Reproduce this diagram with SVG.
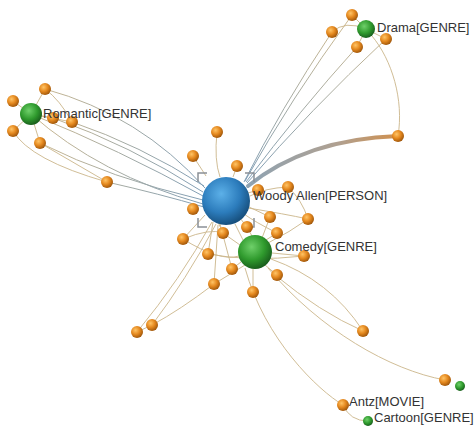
<svg xmlns="http://www.w3.org/2000/svg" width="474" height="429" viewBox="0 0 474 429">
<defs>
<radialGradient id="gO" cx="0.38" cy="0.35" r="0.7"><stop offset="0" stop-color="#ffc466"/><stop offset="0.5" stop-color="#e5891f"/><stop offset="1" stop-color="#9a5208"/></radialGradient>
<radialGradient id="gG" cx="0.4" cy="0.35" r="0.7"><stop offset="0" stop-color="#6fd06a"/><stop offset="0.55" stop-color="#2f9a2d"/><stop offset="1" stop-color="#16561a"/></radialGradient>
<radialGradient id="gB" cx="0.4" cy="0.35" r="0.72"><stop offset="0" stop-color="#5cb0e8"/><stop offset="0.55" stop-color="#2c7cbc"/><stop offset="1" stop-color="#12456f"/></radialGradient>
<linearGradient id="gRom" gradientUnits="userSpaceOnUse" x1="30" y1="0" x2="205" y2="0"><stop offset="0" stop-color="#cdb88e"/><stop offset="1" stop-color="#7f9db5"/></linearGradient>
<linearGradient id="gDra" gradientUnits="userSpaceOnUse" x1="0" y1="180" x2="0" y2="20"><stop offset="0" stop-color="#7f9db5"/><stop offset="1" stop-color="#cdb88e"/></linearGradient>
<linearGradient id="gThick" gradientUnits="userSpaceOnUse" x1="248" y1="0" x2="398" y2="0"><stop offset="0" stop-color="#8ea3b3"/><stop offset="0.6" stop-color="#b0a090"/><stop offset="1" stop-color="#d0904e"/></linearGradient>
</defs>
<style>
.e{fill:none;stroke:#cbb58a;stroke-width:0.9}
.r{fill:none;stroke:url(#gRom);stroke-width:1}
.d{fill:none;stroke:url(#gDra);stroke-width:1}
.o{fill:url(#gO)}
.g{fill:url(#gG)}
.b{fill:url(#gB)}
.t{font-family:"Liberation Sans",Arial,sans-serif;font-size:13px;fill:#333}
.br{fill:none;stroke:#8a9096;stroke-width:1.5}
</style>
<rect width="474" height="429" fill="#fff"/>
<g id="connectors">
<path class="e" d="M31,114 L45,89 M31,114 L13,101 M31,114 L53,118 M31,114 L72,122 M31,114 L13,131 M31,114 L40,143 M45,89 Q60,100 72,122 M13,131 Q30,160 107,182 M40,143 L107,182"/>
<path class="r" d="M31,114 Q120,150 203,196 M45,89 Q140,115 205,188 M53,118 Q130,145 203,192 M72,122 Q140,145 204,186 M40,143 Q110,178 203,200 M31,114 Q100,175 203,204 M107,182 Q160,194 204,207"/>
<path class="d" d="M244,182 Q280,110 332,32 M245,181 Q290,100 352,15 M246,182 Q300,110 357,47 M247,183 Q310,110 386,39"/>
<path class="e" d="M332,32 Q345,20 366,29 M352,15 L366,29 M357,47 L366,29 M386,39 L366,29 M372,36 C392,60 404,100 398,136"/>
<path d="M248,186 C290,152 340,138 398,136" fill="none" stroke="url(#gThick)" stroke-width="4" stroke-linecap="round"/>
<path class="e" d="M217,132 Q214,160 220,177 M193,156 L206,176 M237,166 L233,177 M258,190 L248,193 M288,187 Q265,188 250,196 M288,187 Q302,200 308,219 M270,217 L247,206 M270,217 L262,238 M308,219 Q285,214 248,208 M308,219 Q290,232 268,243 M247,227 L240,218 M247,227 L252,236 M277,233 L266,240 M277,233 Q255,222 244,214 M183,239 L205,215 M183,239 Q210,228 223,233 M183,239 Q220,262 239,256 M223,233 L218,222 M223,233 L240,245 M208,254 L213,222 M208,254 Q250,262 304,256 M304,256 L272,253 M232,269 L241,262 M232,269 L220,224 M277,275 L265,265 M214,284 L218,225 M214,284 L245,265 M253,292 L253,269 M271,259 Q330,280 363,331 M275,275 Q320,312 363,331 M268,268 C320,330 390,370 445,380 M245,268 C265,340 318,390 343,405 M343,405 Q350,421 368,421 M212,222 Q180,280 137,332 M216,224 Q186,280 152,325 M214,284 Q180,310 152,325 M137,332 L152,325 M235,224 L243,240"/>
</g>
<g id="bracket"><path class="br" d="M198,182 V173 H207 M245,173 H254 V182 M198,218 V227 H207 M254,218 V227 H245"/></g>
<g id="orange-nodes">
<circle class="o" cx="45" cy="89" r="6"/><circle class="o" cx="13" cy="101" r="6"/><circle class="o" cx="53" cy="118" r="6"/><circle class="o" cx="72" cy="122" r="6"/><circle class="o" cx="13" cy="131" r="6"/><circle class="o" cx="40" cy="143" r="6"/><circle class="o" cx="107" cy="182" r="6"/><circle class="o" cx="217" cy="132" r="6"/><circle class="o" cx="193" cy="156" r="6"/><circle class="o" cx="237" cy="166" r="6"/><circle class="o" cx="288" cy="187" r="6"/><circle class="o" cx="258" cy="190" r="6"/><circle class="o" cx="193" cy="209" r="6"/><circle class="o" cx="270" cy="217" r="6"/><circle class="o" cx="308" cy="219" r="6"/><circle class="o" cx="247" cy="227" r="6"/><circle class="o" cx="277" cy="233" r="6"/><circle class="o" cx="183" cy="239" r="6"/><circle class="o" cx="223" cy="233" r="6"/><circle class="o" cx="208" cy="254" r="6"/><circle class="o" cx="304" cy="256" r="6"/><circle class="o" cx="232" cy="269" r="6"/><circle class="o" cx="277" cy="275" r="6"/><circle class="o" cx="214" cy="284" r="6"/><circle class="o" cx="253" cy="292" r="6"/><circle class="o" cx="363" cy="331" r="6"/><circle class="o" cx="445" cy="380" r="6"/><circle class="o" cx="152" cy="325" r="6"/><circle class="o" cx="137" cy="332" r="6"/><circle class="o" cx="352" cy="15" r="6"/><circle class="o" cx="332" cy="32" r="6"/><circle class="o" cx="357" cy="47" r="6"/><circle class="o" cx="386" cy="39" r="6"/><circle class="o" cx="398" cy="136" r="6"/>
</g>
<g id="woody"><circle class="b" cx="226" cy="201" r="24"/><text class="t" x="253" y="200">Woody Allen[PERSON]</text></g>
<g id="comedy"><circle class="g" cx="255" cy="252" r="17"/><text class="t" x="275" y="251">Comedy[GENRE]</text></g>
<g id="romantic"><circle class="g" cx="31" cy="114" r="11"/><text class="t" x="43" y="118">Romantic[GENRE]</text></g>
<g id="drama"><circle class="g" cx="366" cy="29" r="9"/><text class="t" x="377" y="32">Drama[GENRE]</text></g>
<g id="antz"><circle class="o" cx="343" cy="405" r="6"/><text class="t" x="349" y="406">Antz[MOVIE]</text></g>
<g id="cartoon"><circle class="g" cx="368" cy="421" r="5"/><text class="t" x="374" y="422">Cartoon[GENRE]</text></g>
<g id="green-node"><circle class="g" cx="460" cy="386" r="5"/></g>
</svg>
